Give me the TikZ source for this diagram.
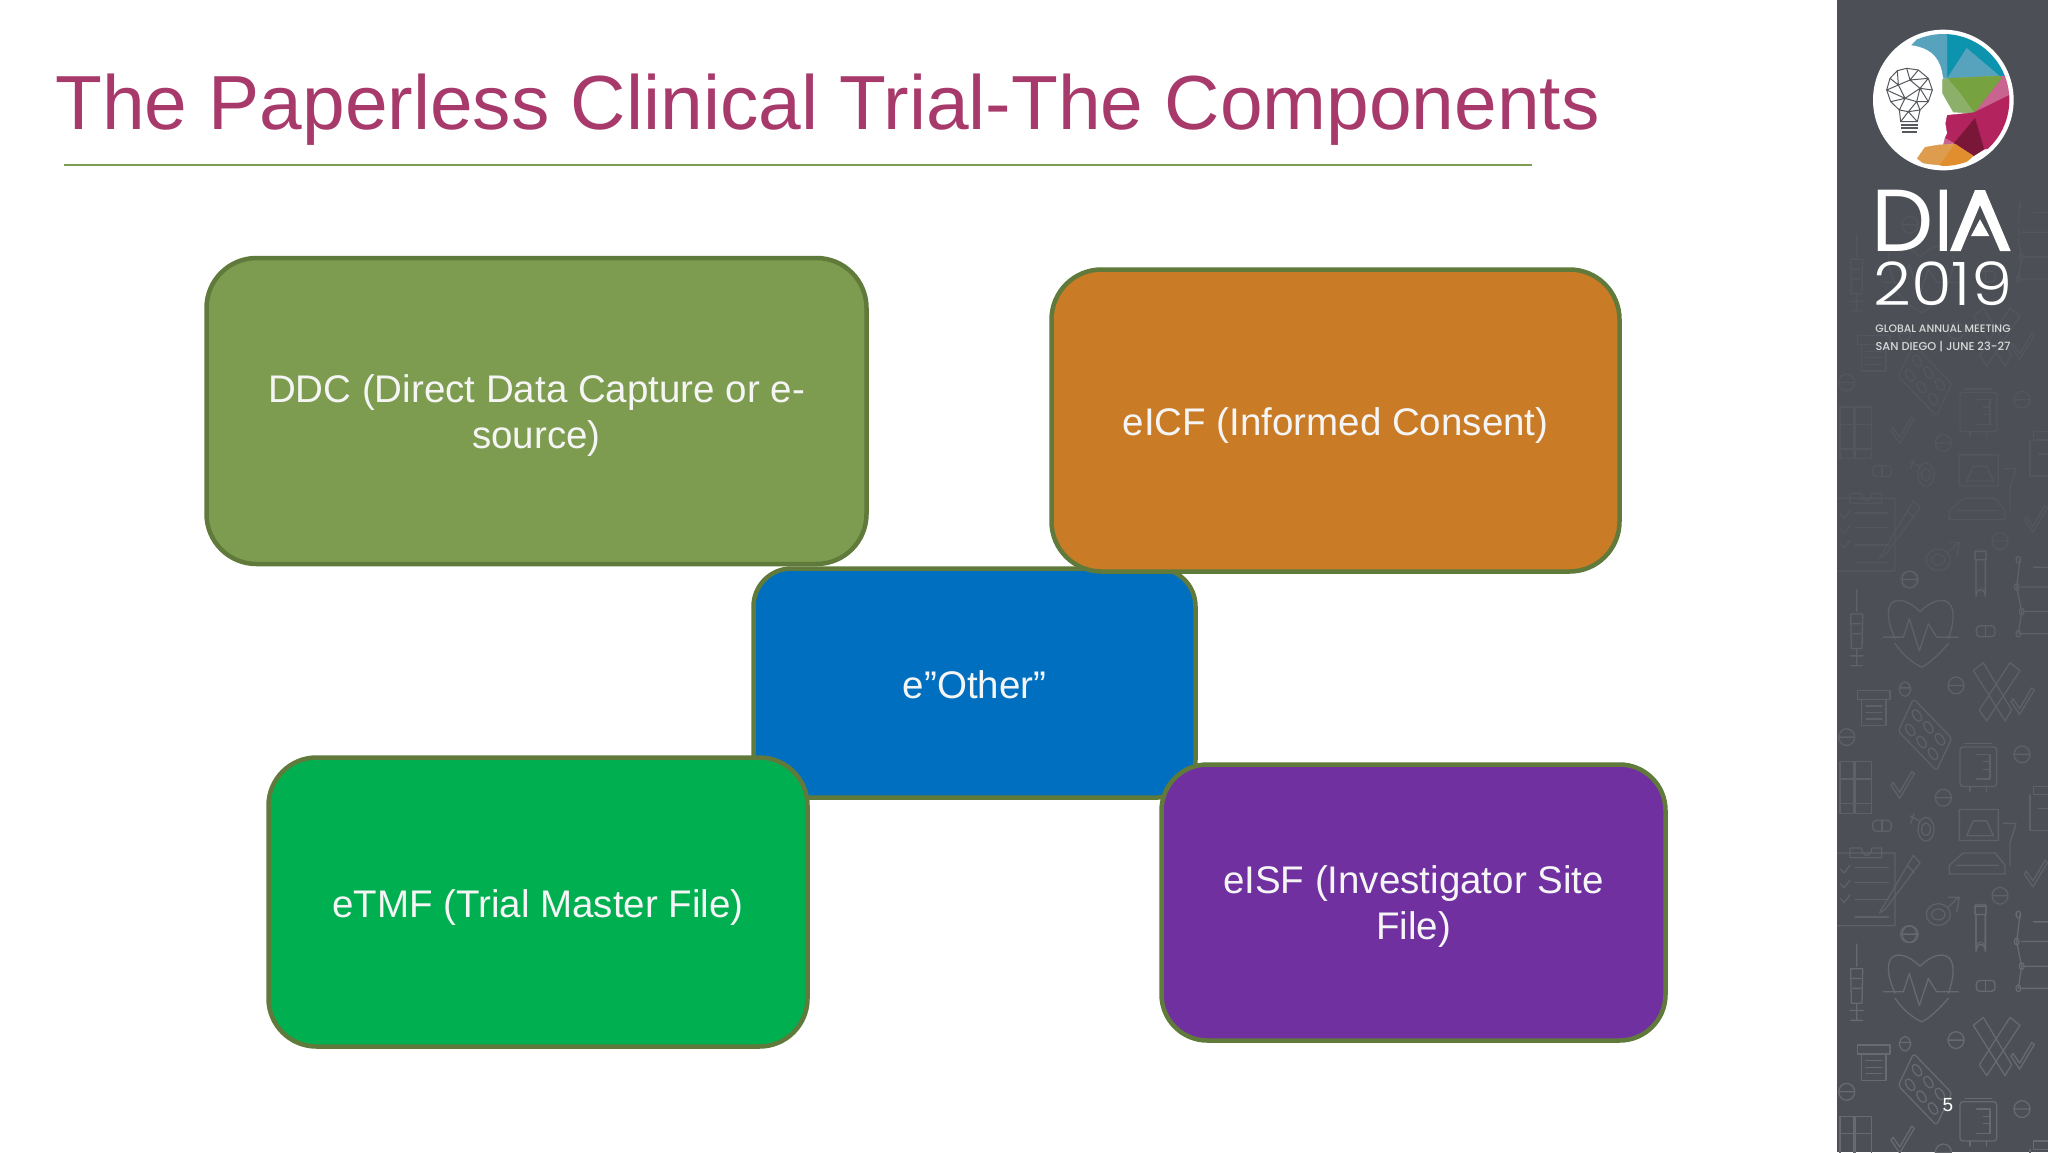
\documentclass[tikz,border=0pt]{standalone}
\usepackage{fontspec}
\setmainfont{Liberation Sans}
\newfontfamily\popfont{Poppins}
\newfontfamily\poplight{Poppins}[UprightFont=* Light]
\newfontfamily\popmed{Poppins}[UprightFont=* Medium]
\definecolor{ring}{HTML}{5F7A3A}
\definecolor{cGreen}{HTML}{7D9C4F}
\definecolor{cOrange}{HTML}{C97B26}
\definecolor{cBlue}{HTML}{006FC0}
\definecolor{cLime}{HTML}{00B050}
\definecolor{cPurple}{HTML}{7030A0}
\definecolor{titlec}{HTML}{A83A6B}
\definecolor{side}{HTML}{4C5056}
\definecolor{bulbc}{HTML}{55585C}
\definecolor{lgTeal}{HTML}{57A2BC}
\definecolor{lgTealD}{HTML}{0C93AD}
\definecolor{lgGreen}{HTML}{76A33F}
\definecolor{lgGreenL}{HTML}{8CB069}
\definecolor{lgPink}{HTML}{C9638F}
\definecolor{lgMag}{HTML}{B3245F}
\definecolor{lgDark}{HTML}{7A1638}
\definecolor{lgOr}{HTML}{E08E2E}
\definecolor{lgOrL}{HTML}{DD9C4E}
\tikzset{
  card/.style={draw=ring,line width=4.5pt,rounded corners=#1,align=center,text=white!96!black,
    font=\fontsize{38.5}{46}\selectfont,inner sep=0pt,text height=38pt},
  card/.default=48pt,
  twolines/.style={text height=82pt},
  icon/.style={line width=1.3pt,line join=round,line cap=round},
  facet/.style={fill=#1,draw=#1,line width=0.4pt,line join=round},
}
\newcommand\pillH[2]{\draw[rounded corners=3.5pt] (#1-28,#2-11) rectangle (#1+28,#2+11); \draw (#1,#2-11)--(#1,#2+11);}
\newcommand\pillD[2]{\draw (#1,#2) circle[x radius=24,y radius=17] (#1-24,#2)--(#1+24,#2);}
\newcommand\chk[2]{\draw (#1-32,#2-2)--(#1-6,#2+24)--(#1+38,#2-26)--(#1+30,#2-30)--(#1-6,#2+12)--(#1-26,#2-8)--cycle;}
\newcommand\tileicons{%
 % syringe
 \draw (110,425)--(110,470) (92,475)--(128,475)--(126,545)--(94,545)--cycle (90,560)--(130,560) (110,545)--(110,580) (92,580)--(128,580) (98,495)--(122,495) (98,515)--(122,515);
 % heart with trace
 \draw (225,525) .. controls (170,440) and (240,430) .. (300,470) .. controls (360,430) and (430,440) .. (385,525);
 \draw (190,522)--(250,522)--(268,485)--(298,550)--(325,495)--(350,522)--(415,522);
 \draw (225,535) .. controls (250,560) and (280,575) .. (305,583) .. controls (330,575) and (360,555) .. (385,535);
 \pillD{270}{405}
 % DNA-like chain
 \draw (600,365)--(590,420)--(605,470)--(595,515) (640,380)--(700,380) (605,420)--(700,420) (610,470)--(700,470) (600,515)--(700,515);
 \foreach \q in {(595,365),(590,420),(605,470),(595,515)} \draw \q circle (7);
 % test tube
 \draw (465,348) rectangle (498,365) (468,365)--(468,440) arc[start angle=180,end angle=360,radius=14] --(496,365);
 \pillH{497}{510}
 % jar
 \draw (113,630) rectangle (210,648) (125,648)--(125,702)--(198,702)--(198,648) (138,662)--(186,662) (138,675)--(186,675) (138,688)--(186,688);
 \draw (238,625) arc[start angle=180,end angle=0,radius=17]--(272,630) arc[start angle=0,end angle=-180,radius=17]--cycle (238,625)--(272,625);
 \pillD{408}{620}
 % crossed tubes
 \draw (460,590)--(490,574)--(575,670)--(555,692)--cycle;
 \draw (600,590)--(570,574)--(478,670)--(500,692)--cycle;
 \chk{605}{655}
 % blister
 \draw[rotate around={-35:(315,720)},rounded corners=3pt] (245,680) rectangle (385,760);
 \foreach \a in {-1,0,1} \foreach \b in {-1,1} {\draw[rotate around={-35:(315,720)}] (315+\a*42,720+\b*18) circle[x radius=16,y radius=9];}
 \pillD{80}{725}
 % drip bag
 \draw[rounded corners=3pt] (420,745) rectangle (530,825);
 \draw (435,738)--(515,738) (450,825)--(450,835) (500,825)--(500,835) (470,760)--(510,760)--(510,810)--(470,810) (490,775)--(510,775) (490,790)--(510,790);
 \pillD{606}{760}
 % tubes in rack
 \draw (60,775) rectangle (100,880) (105,775) rectangle (155,880) (60,810)--(155,810) (60,860)--(155,860);
 \chk{245}{825}
 \pillD{370}{848}
 \pillH{186}{905}
 % female
 \draw (318,912) circle (24) (318,912) circle (13) (298,895)--(270,885) (282,880)--(272,900);
 % monitor
 \draw (418,872) rectangle (535,935) (440,925)--(460,895)--(500,895)--(520,925)--cycle (388,1003)--(388,985)--(430,960)--(525,960)--(555,985)--(555,1003)--cycle (410,985)--(535,985) (570,985)--(570,940) (550,900)--(588,900)--(570,940);
 % jar right
 \draw (640,825) rectangle (700,842) (630,842)--(630,915)--(700,915) (655,870)--(685,870);
 \chk{645}{1005}
 % clipboard
 \draw (50,960)--(225,960)--(225,1108)--(50,1108) (90,970)--(90,950)--(125,950) arc[start angle=180,end angle=0,radius=15]--(185,950)--(185,970)--cycle;
 \foreach \q in {990,1020,1055,1090} \draw (105,\q)--(205,\q);
 \foreach \q in {995,1025,1055} \draw (62,\q-2)--(72,\q+6)--(90,\q-10);
 % pencil
 \draw (178,1082)--(280,965)--(300,980)--(195,1075)--cycle (262,985)--(282,1000);
 % male
 \draw (355,1085) circle[x radius=36,y radius=22] (355,1085) circle[x radius=20,y radius=11] (385,1070)--(415,1050) (385,1050)--(418,1050)--(410,1080);
 \draw (466,1065) rectangle (498,1085) (468,1085)--(468,1155) arc[start angle=180,end angle=360,radius=14]--(496,1085);
 \pillD{540}{1047}
 \pillD{265}{1125}
}
\begin{document}
\begin{tikzpicture}[x=1pt,y=-1pt]
\useasboundingbox (0,0) rectangle (2048,1152);
\fill[white] (0,0) rectangle (2048,1152);
% title and rule
\node[anchor=west,text=titlec,font=\fontsize{76.7}{90}\selectfont,inner sep=0pt] (title) at (55,110) {The Paperless Clinical Trial-The Components};
\coordinate (ruleL) at (64,165);
\coordinate (ruleR) at (1532,165);
\draw[cGreen,line width=1.4pt] (ruleL) -- (ruleR);
% cards: blue lies under the others
\node[card=38pt,fill=cBlue,minimum width=442pt,minimum height=229pt,text height=31pt] (other) at (974.5,683) {e”Other”};
\node[card=50pt,fill=cGreen,minimum width=660pt,minimum height=306pt,twolines] (ddc) at (536.5,411) {DDC (Direct Data Capture or e-\\source)};
\node[card=50pt,fill=cOrange,minimum width=568pt,minimum height=302pt] (eicf) at (1335.5,420.5) {eICF (Informed Consent)};
\node[card=48pt,fill=cLime,minimum width=539pt,minimum height=289pt] (etmf) at (538,902) {eTMF (Trial Master File)};
\node[card=46pt,fill=cPurple,minimum width=504pt,minimum height=276pt,twolines] (eisf) at (1413.5,902.5) {eISF (Investigator Site\\File)};
% sidebar
\fill[side] (1837,0) rectangle (2048,1152);
\begin{scope}
 \clip (1837,0) rectangle (2048,1152);
 \begin{scope}[shift={(1820,380)},xscale=1/3,yscale=0.4926,icon]
  \begin{scope}[shift={(0,-720)},draw=side!96!white] \tileicons \end{scope}
  \begin{scope}[draw=side!90!white] \tileicons \end{scope}
  \begin{scope}[shift={(0,720)},draw=side!85!white] \tileicons \end{scope}
 \end{scope}
\end{scope}
% logo
\begin{scope}[shift={(1860,30)},scale=1/3]
 \fill[white] (250,210) circle (211);
 \begin{scope}
  \clip (250,210) circle (198);
  \fill[facet=lgPink] (400,140) -- (500,130) -- (500,170) -- (342,248) -- cycle;
  \fill[facet=lgTeal] (155,45) -- (200,0) -- (262,0) -- (262,145) -- (250,145) .. controls (245,95) and (225,55) .. (155,45) -- cycle;
  \fill[facet=lgTealD] (262,0) -- (330,0) -- (320,55) -- (272,145) -- (262,145) -- cycle;
  \fill[facet=lgTealD] (320,55) -- (330,0) -- (500,0) -- (500,130) -- (418,138) -- cycle;
  \fill[facet=lgTeal] (320,55) -- (418,138) -- (262,145) -- cycle;
  \fill[facet=lgGreen] (262,145) -- (418,138) -- (424,145) -- (342,248) -- (300,190) -- cycle;
  \fill[facet=lgGreenL] (248,148) -- (262,146) -- (300,190) -- (342,250) -- (280,246) -- (262,215) -- (248,190) -- cycle;
  \fill[facet=lgMag] (342,248) -- (500,170) -- (500,330) -- (372,358) -- (345,265) -- cycle;
  \fill[facet=lgMag] (262,256) -- (342,248) -- (345,265) -- (282,340) -- (255,325) -- (262,310) -- (257,280) -- cycle;
  \fill[facet=lgPink] (255,325) -- (282,340) -- (250,345) -- cycle;
  \fill[facet=lgDark] (345,265) -- (372,358) -- (340,378) -- (282,340) -- cycle;
  \fill[facet=lgOrL] (172,385) -- (195,352) -- (235,345) -- (285,342) -- (240,405) -- (190,400) -- cycle;
  \fill[facet=lgOr] (285,342) -- (340,378) -- (290,420) -- (240,405) -- cycle;
 \end{scope}
 % bulb
 \begin{scope}[draw=bulbc,line width=1pt,line join=round]
  \draw (140,115) -- (175,120) -- (205,145) -- (217,180) -- (205,215) -- (180,240) -- (172,275) -- (122,275) -- (118,240) -- (92,215) -- (80,180) -- (90,145) -- (112,122) -- cycle;
  \draw (140,115) -- (150,150) -- (175,120) (150,150) -- (205,145) (150,150) -- (180,175) -- (217,180) (180,175) -- (205,145) (180,175) -- (205,215) (150,150) -- (115,165) -- (112,122) (115,165) -- (90,145) (115,165) -- (80,180) (115,165) -- (135,205) -- (92,215) (135,205) -- (80,180) (135,205) -- (180,175) (135,205) -- (170,215) -- (180,175) (170,215) -- (205,215) (170,215) -- (180,240) (135,205) -- (118,240) (170,215) -- (145,245) -- (118,240) (145,245) -- (180,240) (145,245) -- (172,275) (145,245) -- (122,275) (118,240) -- (135,205);
 \end{scope}
 \draw[bulbc,line width=2pt] (122,285) -- (175,285) (122,295) -- (175,295) (126,305) -- (171,305);
\end{scope}
% wordmark: the A of the mark has no bar, but a small triangle
\node[text=white,font=\popfont\fontsize{88}{88}\selectfont,inner sep=0pt] (dia) at (1943,221) {DIA};
\fill[side] (1947,186) rectangle (2018,256);
\fill[white] (1975,190) -- (1985,190) -- (2010.7,251) -- (2000,251) -- (1980,205) -- (1960.7,251) -- (1950,251) -- cycle;
\fill[white] (1980,219.3) -- (1971,236) -- (1989.3,236) -- cycle;
\node[text=white,font=\poplight\fontsize{60}{60}\selectfont,inner sep=0pt,xscale=1.1] (year) at (1943,284) {2019};
\node[text=white!85!black,font=\popmed\fontsize{10.8}{11}\selectfont,inner sep=0pt] (meet) at (1943,329) {GLOBAL ANNUAL MEETING};
\node[text=white!85!black,font=\popmed\fontsize{11.4}{12}\selectfont,inner sep=0pt] (place) at (1943,347) {SAN DIEGO | JUNE 23-27};
\node[text=white,font=\fontsize{19}{19}\selectfont,inner sep=0pt] (page) at (1948,1105) {5};
\end{tikzpicture}
\end{document}
